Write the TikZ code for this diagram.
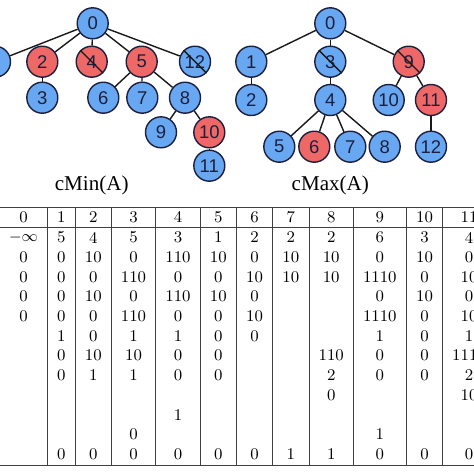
\documentclass[tikz,border=0pt]{standalone}
\usepackage{fontspec}
\newfontfamily\treefont{Liberation Sans}
\newfontfamily\capfont{Liberation Serif}
\usetikzlibrary{positioning}
\definecolor{nodeblue}{RGB}{104,168,242}
\definecolor{nodered}{RGB}{238,104,104}
\definecolor{ink}{RGB}{28,32,62}
\tikzset{
  vert/.style={circle, draw=ink, line width=0.8pt, minimum size=0.62cm, inner sep=0pt, text=ink, font=\treefont\fontsize{10.5}{12}\selectfont},
  bvert/.style={vert, fill=nodeblue},
  rvert/.style={vert, fill=nodered},
  edge/.style={draw=black!90, line width=0.8pt},
  caption/.style={font=\capfont\fontsize{12}{14}\selectfont},
  cell/.style={inner sep=0pt, font=\fontsize{9.3}{10}\selectfont},
  rule/.style={draw=black!75, line width=0.5pt}
}

\begin{document}
\begin{tikzpicture}[x=0.02cm, y=-0.02cm]
  \useasboundingbox (0,0) rectangle (474,474);

  % cMin(A)
  \node[bvert] (l0) at (92.7,23.3) {0};
  \node[bvert] (l1) at (-5,61.7) {1};
  \node[rvert] (l2) at (42.3,61.7) {2};
  \node[rvert] (l4) at (91.7,61.7) {4};
  \node[rvert] (l5) at (141.7,61.7) {5};
  \node[bvert] (l12) at (195,61.7) {12};
  \node[bvert] (l3) at (42.3,97.7) {3};
  \node[bvert] (l6) at (103.3,97.7) {6};
  \node[bvert] (l7) at (142.3,97.7) {7};
  \node[bvert] (l8) at (185,97.7) {8};
  \node[bvert] (l9) at (161,132.3) {9};
  \node[rvert] (l10) at (209.3,132.3) {10};
  \node[bvert] (l11) at (209.3,165.7) {11};
  \node[caption] (lcap) at (91.7,185) {cMin(A)};

  % cMax(A)
  \node[bvert] (r0) at (330.3,23.3) {0};
  \node[bvert] (r1) at (251.3,61.7) {1};
  \node[bvert] (r3) at (330.3,61.7) {3};
  \node[rvert] (r9) at (408.7,61.7) {9};
  \node[bvert] (r2) at (251.3,100) {2};
  \node[bvert] (r4) at (330.3,100) {4};
  \node[bvert] (r10) at (388.7,100) {10};
  \node[rvert] (r11) at (431,100) {11};
  \node[bvert] (r5) at (279.3,146.7) {5};
  \node[rvert] (r6) at (314.3,146.7) {6};
  \node[bvert] (r7) at (350.3,146.7) {7};
  \node[bvert] (r8) at (384.7,146.7) {8};
  \node[bvert] (r12) at (431,146.7) {12};
  \node[caption] (rcap) at (330.3,185) {cMax(A)};

  \foreach \a/\b in {l0/l1, l0/l2, l0/l4, l0/l5, l0/l12, l2/l3, l5/l6, l5/l7, l5/l8, l8/l9, l8/l10, l10/l11,
                     r0/r1, r0/r3, r0/r9, r1/r2, r3/r4, r4/r5, r4/r6, r4/r7, r4/r8, r9/r10, r9/r11, r11/r12}
    \draw[edge] (\a) -- (\b);

  % removed vertices
  \foreach \n in {l4, l12, r3, r9}
    \draw[edge] (\n.135) -- (\n.-45);

  % table
  \draw[rule] (0,207) -- (474,207);
  \draw[rule] (0,227) -- (474,227);
  \draw[rule] (0,465.5) -- (474,465.5);
  \foreach \x in {47,75.3,111.3,155.7,200.3,236.3,272.7,309,353.3,406.3,442.7}
    \draw[rule] (\x,207) -- (\x,465.5);

  \foreach \c/\x in {0/23.5,1/61.2,2/93.3,3/133.5,4/178,5/218.3,6/254.5,7/290.8,8/331.2,9/379.8,10/424.5,11/469}
    \node[cell] (h\c) at (\x,217) {\c};

  \foreach \r/\v in {1/{$-\infty$},2/0,3/0,4/0,5/0}
    \node[cell] (c0-\r) at (23.5,{237.5+(\r-1)*19.7}) {\v};
  \foreach \r/\v in {1/5,2/0,3/0,4/0,5/0,6/1,7/0,8/0,12/0}
    \node[cell] (c1-\r) at (61.2,{237.5+(\r-1)*19.7}) {\v};
  \foreach \r/\v in {1/4,2/10,3/0,4/10,5/0,6/0,7/10,8/1,12/0}
    \node[cell] (c2-\r) at (93.3,{237.5+(\r-1)*19.7}) {\v};
  \foreach \r/\v in {1/5,2/0,3/110,4/0,5/110,6/1,7/10,8/1,11/0,12/0}
    \node[cell] (c3-\r) at (133.5,{237.5+(\r-1)*19.7}) {\v};
  \foreach \r/\v in {1/3,2/110,3/0,4/110,5/0,6/1,7/0,8/0,10/1,12/0}
    \node[cell] (c4-\r) at (178,{237.5+(\r-1)*19.7}) {\v};
  \foreach \r/\v in {1/1,2/10,3/0,4/10,5/0,6/0,7/0,8/0,12/0}
    \node[cell] (c5-\r) at (218.3,{237.5+(\r-1)*19.7}) {\v};
  \foreach \r/\v in {1/2,2/0,3/10,4/0,5/10,6/0,12/0}
    \node[cell] (c6-\r) at (254.5,{237.5+(\r-1)*19.7}) {\v};
  \foreach \r/\v in {1/2,2/10,3/10,12/1}
    \node[cell] (c7-\r) at (290.8,{237.5+(\r-1)*19.7}) {\v};
  \foreach \r/\v in {1/2,2/10,3/10,7/110,8/2,9/0,12/1}
    \node[cell] (c8-\r) at (331.2,{237.5+(\r-1)*19.7}) {\v};
  \foreach \r/\v in {1/6,2/0,3/1110,4/0,5/1110,6/1,7/0,8/0,11/1,12/0}
    \node[cell] (c9-\r) at (379.8,{237.5+(\r-1)*19.7}) {\v};
  \foreach \r/\v in {1/3,2/10,3/0,4/10,5/0,6/0,7/0,8/0,12/0}
    \node[cell] (c10-\r) at (424.5,{237.5+(\r-1)*19.7}) {\v};
  \foreach \r/\v in {1/4,2/0,3/10,4/0,5/10,6/1,7/1110,8/2,9/10,12/0}
    \node[cell] (c11-\r) at (469,{237.5+(\r-1)*19.7}) {\v};
\end{tikzpicture}
\end{document}
